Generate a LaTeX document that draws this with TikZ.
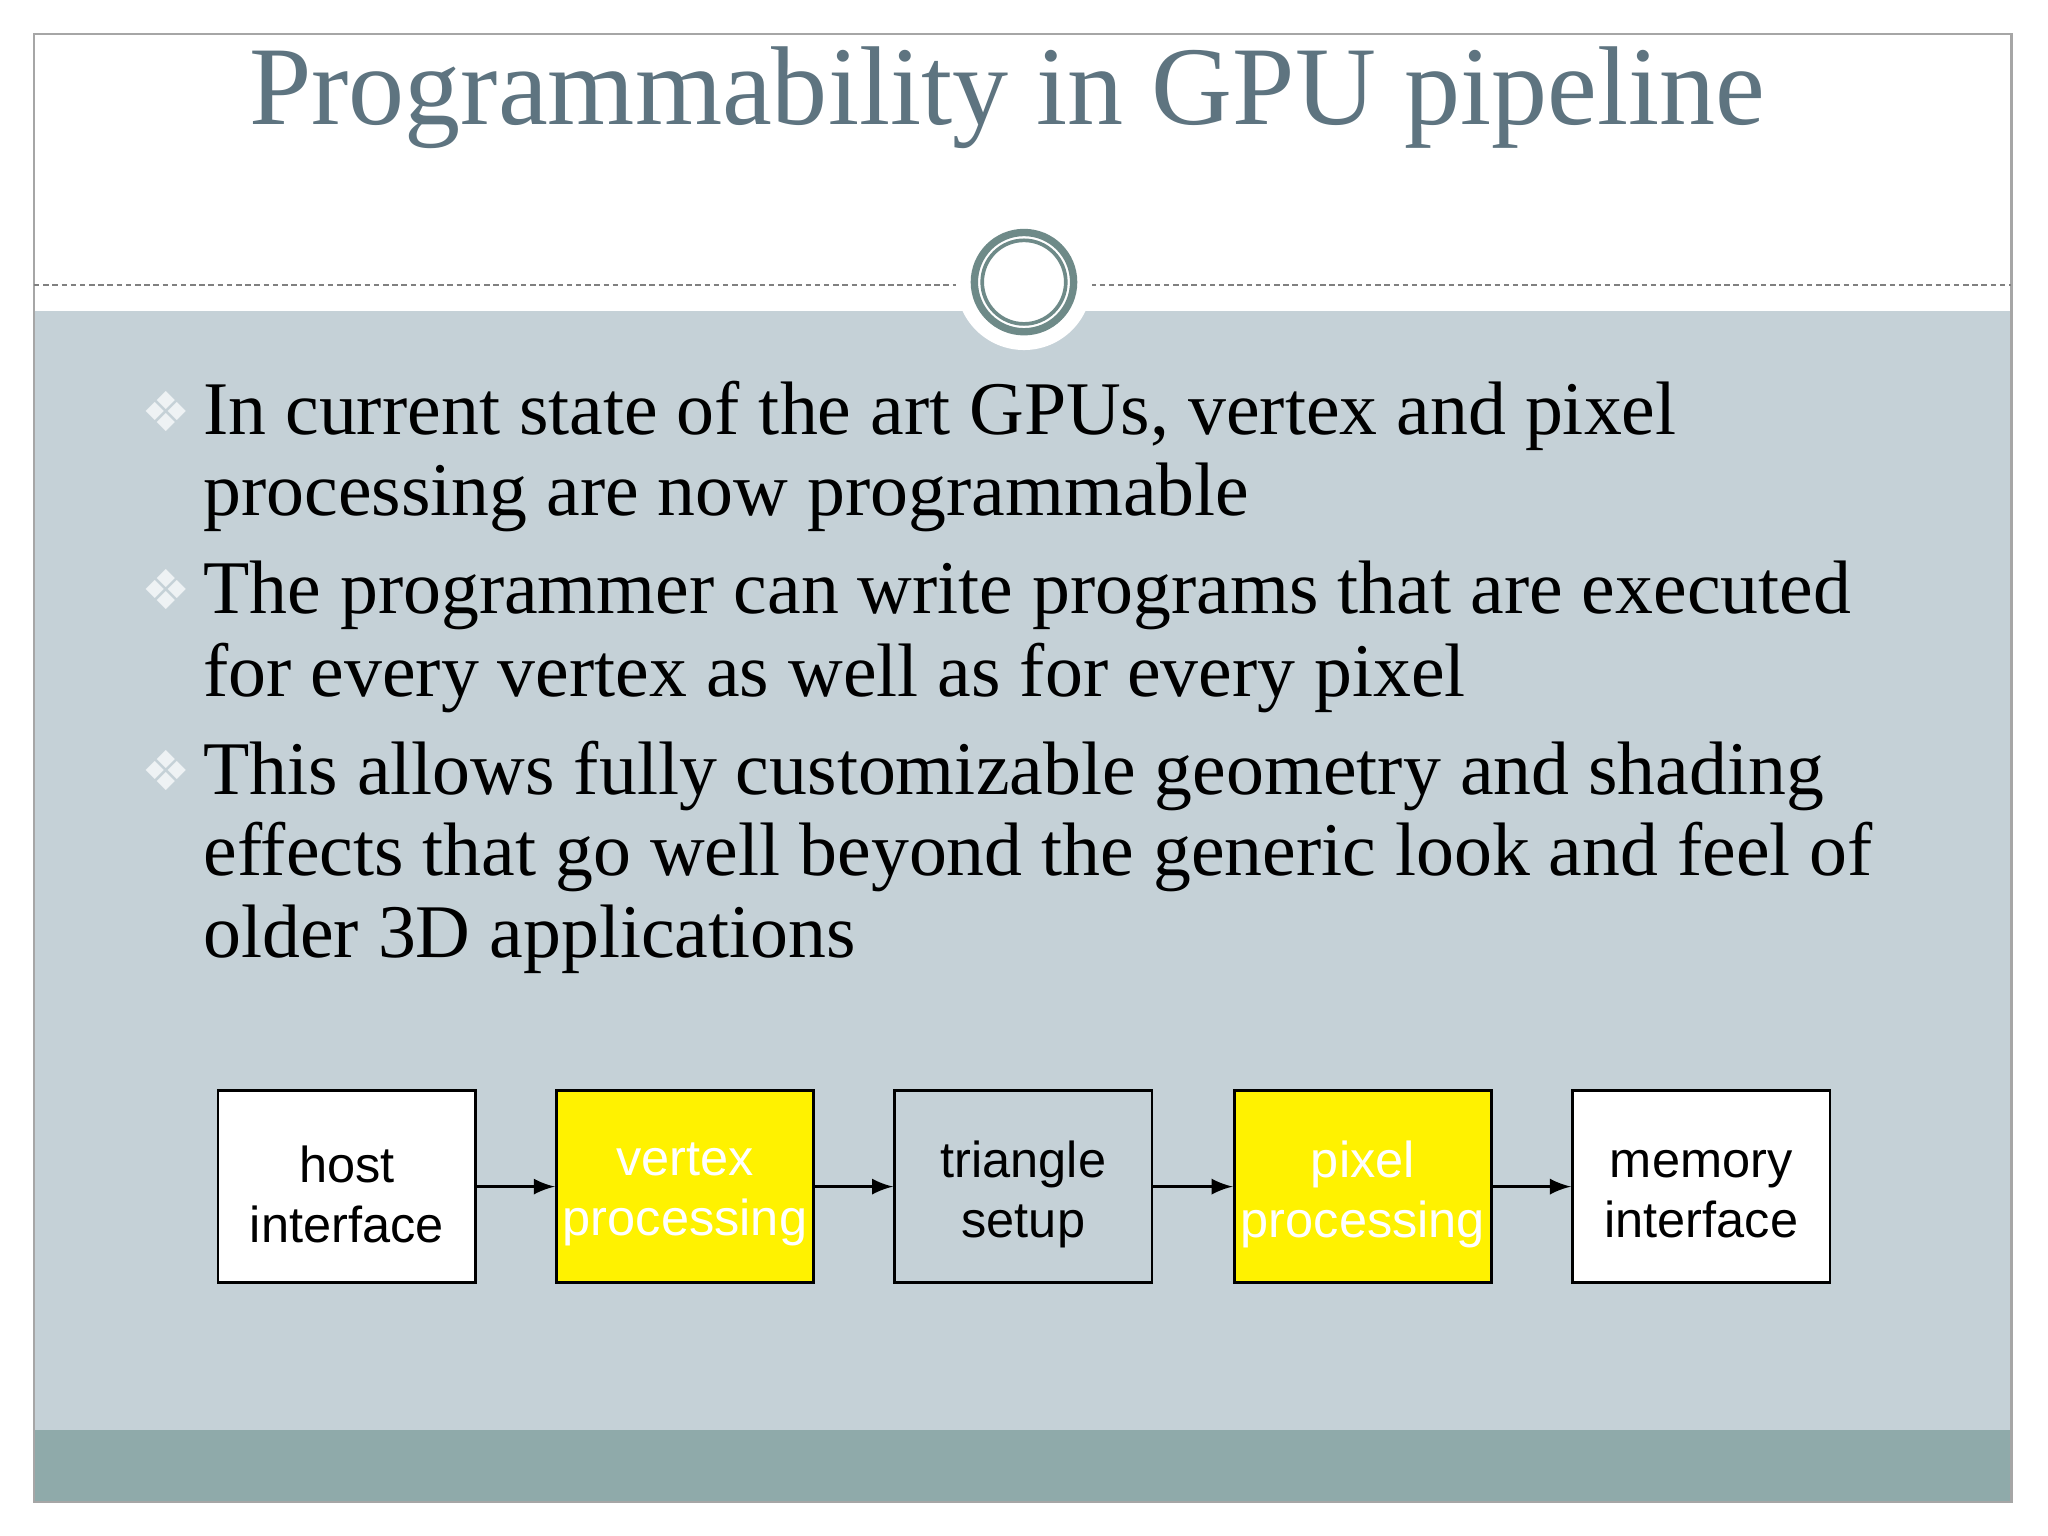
\documentclass[tikz,border=0pt]{standalone}
\usepackage{fontspec}
\setmainfont{Liberation Serif}
\newfontfamily\boxfont{Liberation Sans}
\newfontfamily\symfont{DejaVu Sans}
\definecolor{bodygrey}{HTML}{C5D1D7}
\definecolor{bandgrey}{HTML}{8FAAAA}
\definecolor{titlec}{HTML}{5E7480}
\definecolor{ringc}{HTML}{6E8A88}
\definecolor{bulc}{HTML}{EEF2F4}
\tikzset{
 stage/.style={draw=black,line width=0.6pt,minimum width=1.97cm,minimum height=1.47cm,inner sep=0pt},
 hot/.style={stage,fill=yellow},
 plain/.style={stage,fill=white},
 mid/.style={stage,fill=bodygrey},
 boxtxt/.style={align=center,font=\boxfont\fontsize{11}{13}\selectfont,inner sep=0pt,yshift=-0.06cm},
 flow/.style={-latex,line width=0.6pt},
 bline/.style={anchor=base west,inner sep=0pt,font=\fontsize{16.5}{20}\selectfont},
 bul/.style={anchor=base,inner sep=0pt,text=bulc,font=\symfont\fontsize{12}{12}\selectfont}
}
\begin{document}
\begin{tikzpicture}[x=0.01cm,y=-0.01cm]
\useasboundingbox (0,0) rectangle (1568,1176);
\fill[white] (0,0) rectangle (1568,1176);
\fill[bodygrey] (26,238) rectangle (1540,1095);
\fill[bandgrey] (26,1095) rectangle (1540,1150);
\draw[gray!70,line width=0.5pt] (26,26) rectangle (1540,1150);
\draw[gray,dash pattern=on 1.2pt off 0.8pt,line width=0.4pt] (26,218) -- (1540,218);
\fill[white] (784,216) circle (52);
\draw[ringc,line width=1.6pt] (784,216) circle (38);
\draw[ringc,line width=0.8pt] (784,216) circle (32);
\node[text=titlec,font=\fontsize{24.4}{28}\selectfont,anchor=base,inner sep=0pt] (title) at (771,95) {Programmability in GPU pipeline};
\node[bul] (b1) at (127,330) {❖};
\node[bul] (b2) at (127,467) {❖};
\node[bul] (b3) at (127,605) {❖};
\node[bline] (l1) at (155,333) {In current state of the art GPUs, vertex and pixel};
\node[bline] (l2) at (155,395) {processing are now programmable};
\node[bline] (l3) at (155,470) {The programmer can write programs that are executed};
\node[bline] (l4) at (155,533) {for every vertex as well as for every pixel};
\node[bline] (l5) at (155,608) {This allows fully customizable geometry and shading};
\node[bline] (l6) at (155,670) {effects that go well beyond the generic look and feel of};
\node[bline] (l7) at (155,733) {older 3D applications};
\node[plain] (h) at (265.5,908.5) {};
\node[hot] (v) at (524.5,908.5) {};
\node[mid] (t) at (783.5,908.5) {};
\node[hot] (p) at (1043.5,908.5) {};
\node[plain] (m) at (1302.5,908.5) {};
\node[boxtxt] (ht) at (h.center) {host\\interface};
\node[boxtxt,text=white] (vt) at (v.center) {vertex\\processing};
\node[boxtxt] (tt) at (t.center) {triangle\\setup};
\node[boxtxt,text=white] (pt) at (p.center) {pixel\\processing};
\node[boxtxt] (mt) at (m.center) {memory\\interface};
\draw[flow] (h) -- (v);
\draw[flow] (v) -- (t);
\draw[flow] (t) -- (p);
\draw[flow] (p) -- (m);
\end{tikzpicture}
\end{document}
